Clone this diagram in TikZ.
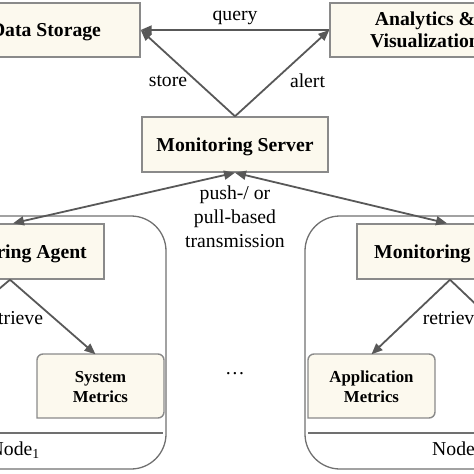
\documentclass[tikz,border=0pt]{standalone}
\usepackage{fontspec}
\setmainfont{Liberation Serif}
\usetikzlibrary{arrows.meta,calc}
\definecolor{boxfill}{HTML}{FCF9EE}
\definecolor{boxline}{HTML}{8A8A8A}
\definecolor{contline}{HTML}{707070}
\definecolor{arrowc}{HTML}{585858}
\begin{document}
\begin{tikzpicture}[x=1pt,y=-1pt,
  box/.style={draw=boxline, fill=boxfill, line width=1.4pt, inner sep=0pt, text depth=0pt,
    font=\fontsize{19.7}{22}\selectfont\bfseries, align=center, text=black},
  metric/.style={inner sep=0pt, minimum width=127pt, minimum height=64pt, text depth=0pt,
    font=\fontsize{16.8}{20}\selectfont\bfseries, align=center, text=black},
  metricshape/.style={draw=boxline, fill=boxfill, line width=1.4pt},
  conn/.style={draw=arrowc, line width=1.8pt, -{Triangle[length=11pt,width=9pt]}},
  biconn/.style={draw=arrowc, line width=1.8pt, {Triangle[length=11pt,width=9pt]}-{Triangle[length=11pt,width=9pt]}},
  lbl/.style={font=\fontsize{19.7}{24}\selectfont, inner sep=0pt, align=center, text=black},
  container/.style={draw=contline, line width=1.3pt, rounded corners=35pt},
  sepline/.style={draw=contline, line width=1.3pt},
]
\useasboundingbox (0,0) rectangle (474,474);
\clip (0,0) rectangle (474,474);

% containers
\draw[container] (-300,216) rectangle (166,469);
\draw[container] (305,216) rectangle (780,469);
\draw[sepline] (-300,433) -- (163,433);
\draw[sepline] (308,433) -- (780,433);

% metric shapes (bottom-left corner sharp)
\draw[metricshape] (37,418) -- (37,360) arc[start angle=180,end angle=90,radius=6pt]
  -- (158,354) arc[start angle=90,end angle=0,radius=6pt]
  -- (164,412) arc[start angle=0,end angle=-90,radius=6pt] -- cycle;
\draw[metricshape] (308,418) -- (308,360) arc[start angle=180,end angle=90,radius=6pt]
  -- (429,354) arc[start angle=90,end angle=0,radius=6pt]
  -- (435,412) arc[start angle=0,end angle=-90,radius=6pt] -- cycle;

% nodes
\node[box, minimum width=188pt, minimum height=54pt] (ds) at (46,30) {Data Storage};
\node[box, minimum width=190pt, minimum height=54pt] (av) at (425,30) {Analytics \&\\Visualization};
\node[box, minimum width=186pt, minimum height=55pt] (ms) at (235,144.5) {Monitoring Server};
\node[box, minimum width=186pt, minimum height=55pt] (la) at (11,251.5) {Monitoring Agent};
\node[box, minimum width=186pt, minimum height=55pt] (ra) at (450,251.5) {Monitoring Agent};
\node[metric] (sm) at (100.5,386.5) {System\\Metrics};
\node[metric] (am) at (371.5,386.5) {Application\\Metrics};
\coordinate (lx) at (-78,354);
\coordinate (rx) at (528,354);

% connectors
\draw[conn] (av.west) -- (ds.east);
\draw[conn] (ms.north) -- (ds.east);
\draw[conn] (ms.north) -- (av.west);
\draw[biconn] (ms.south) -- ([xshift=2pt]la.north);
\draw[biconn] (ms.south) -- ([xshift=-3pt]ra.north);
\draw[conn] ([xshift=-1pt]la.south) -- ([xshift=-5pt]sm.north);
\draw[conn] ([xshift=-1pt]la.south) -- (lx);
\draw[conn] (ra.south) -- (am.north);
\draw[conn] (ra.south) -- (rx);

% labels
\node[lbl] (lq) at (235,18) {query};
\node[lbl] (ls) at (168,81) {store};
\node[lbl] (lal) at (307.5,81) {alert};
\node[lbl] (lp) at (235,217) {push-/ or\\pull-based\\transmission};
\node[lbl] (lr1) at (13,318) {retrieve};
\node[lbl] (lr2) at (453,318) {retrieve};
\node[lbl] (ldots) at (235,374) {\dots};
\node[lbl, anchor=east] (ln1) at (40,450) {Node\textsubscript{1}};
\node[lbl, anchor=west] (ln2) at (432,450) {Node\textsubscript{n}};
\end{tikzpicture}
\end{document}
